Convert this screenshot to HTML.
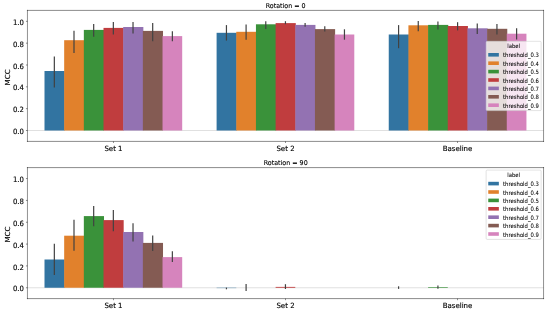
<!DOCTYPE html>
<html lang="en"><head><meta charset="utf-8"><title>MCC by threshold</title>
<style>
html,body{margin:0;padding:0;background:#fff;}
body{width:550px;height:311px;overflow:hidden;font-family:"DejaVu Sans","Liberation Sans",sans-serif;}
svg{display:block;}
svg text{stroke:#000;stroke-width:0.14px;stroke-linejoin:round;}
svg text.lg{stroke-width:0.05px;}
svg text.tt{stroke-width:0.1px;}
</style></head><body>
<svg width="550" height="311" viewBox="0 0 550 311" font-family='"DejaVu Sans","Liberation Sans",sans-serif' fill="#000">
<rect width="550" height="311" fill="#fff"/>
<g class="ax">
<line x1="27.45" x2="543.55" y1="130.5" y2="130.5" stroke="#d6d6d6" stroke-width="0.75"/>
<rect x="44.5" y="71" width="20.17" height="59.5" fill="#3274a1"/>
<rect x="64.17" y="40.2" width="20.17" height="90.3" fill="#e1812c"/>
<rect x="83.84" y="29.9" width="20.17" height="100.6" fill="#3a923a"/>
<rect x="103.51" y="27.9" width="20.17" height="102.6" fill="#c03d3e"/>
<rect x="123.18" y="27" width="20.17" height="103.5" fill="#9372b2"/>
<rect x="142.85" y="30.9" width="20.17" height="99.6" fill="#845b53"/>
<rect x="162.52" y="36.1" width="19.67" height="94.4" fill="#d684bd"/>
<rect x="216.6" y="32.8" width="20.17" height="97.7" fill="#3274a1"/>
<rect x="236.27" y="31.8" width="20.17" height="98.7" fill="#e1812c"/>
<rect x="255.94" y="24.3" width="20.17" height="106.2" fill="#3a923a"/>
<rect x="275.61" y="23.1" width="20.17" height="107.4" fill="#c03d3e"/>
<rect x="295.28" y="24.9" width="20.17" height="105.6" fill="#9372b2"/>
<rect x="314.95" y="29.1" width="20.17" height="101.4" fill="#845b53"/>
<rect x="334.62" y="34.5" width="19.67" height="96" fill="#d684bd"/>
<rect x="388.75" y="34.5" width="20.17" height="96" fill="#3274a1"/>
<rect x="408.42" y="25.3" width="20.17" height="105.2" fill="#e1812c"/>
<rect x="428.09" y="24.9" width="20.17" height="105.6" fill="#3a923a"/>
<rect x="447.76" y="26" width="20.17" height="104.5" fill="#c03d3e"/>
<rect x="467.43" y="28.3" width="20.17" height="102.2" fill="#9372b2"/>
<rect x="487.1" y="28.8" width="20.17" height="101.7" fill="#845b53"/>
<rect x="506.77" y="33.7" width="19.67" height="96.8" fill="#d684bd"/>
<line x1="54.34" x2="54.34" y1="56.5" y2="87.6" stroke="#424242" stroke-width="1.2"/>
<line x1="74" x2="74" y1="30.8" y2="53.1" stroke="#424242" stroke-width="1.2"/>
<line x1="93.68" x2="93.68" y1="24" y2="36.7" stroke="#424242" stroke-width="1.2"/>
<line x1="113.34" x2="113.34" y1="22.1" y2="34.4" stroke="#424242" stroke-width="1.2"/>
<line x1="133.02" x2="133.02" y1="22" y2="33.5" stroke="#424242" stroke-width="1.2"/>
<line x1="152.69" x2="152.69" y1="23.1" y2="41.2" stroke="#424242" stroke-width="1.2"/>
<line x1="172.36" x2="172.36" y1="31.2" y2="41.2" stroke="#424242" stroke-width="1.2"/>
<line x1="226.44" x2="226.44" y1="25.1" y2="40.6" stroke="#424242" stroke-width="1.2"/>
<line x1="246.1" x2="246.1" y1="24.5" y2="39.7" stroke="#424242" stroke-width="1.2"/>
<line x1="265.77" x2="265.77" y1="21.2" y2="29" stroke="#424242" stroke-width="1.2"/>
<line x1="285.44" x2="285.44" y1="21.2" y2="24.2" stroke="#424242" stroke-width="1.2"/>
<line x1="305.11" x2="305.11" y1="22.9" y2="26.7" stroke="#424242" stroke-width="1.2"/>
<line x1="324.78" x2="324.78" y1="26.2" y2="31.5" stroke="#424242" stroke-width="1.2"/>
<line x1="344.45" x2="344.45" y1="29.3" y2="39.7" stroke="#424242" stroke-width="1.2"/>
<line x1="398.58" x2="398.58" y1="25.1" y2="48.2" stroke="#424242" stroke-width="1.2"/>
<line x1="418.25" x2="418.25" y1="21" y2="31.2" stroke="#424242" stroke-width="1.2"/>
<line x1="437.93" x2="437.93" y1="21.6" y2="29.6" stroke="#424242" stroke-width="1.2"/>
<line x1="457.59" x2="457.59" y1="22.2" y2="30.4" stroke="#424242" stroke-width="1.2"/>
<line x1="477.26" x2="477.26" y1="23.5" y2="33.9" stroke="#424242" stroke-width="1.2"/>
<line x1="496.94" x2="496.94" y1="24.1" y2="34.4" stroke="#424242" stroke-width="1.2"/>
<line x1="516.61" x2="516.61" y1="28.2" y2="39.6" stroke="#424242" stroke-width="1.2"/>
<path d="M27.45 10.4V141.4M543.55 10.4V141.4" fill="none" stroke="#000" stroke-width="0.44" stroke-linecap="square"/>
<path d="M27.45 10.4H543.55M27.45 141.4H543.55" fill="none" stroke="#000" stroke-width="0.46" stroke-linecap="square"/>
<line x1="25.95" x2="27.45" y1="130.5" y2="130.5" stroke="#000" stroke-width="0.46"/>
<text transform="translate(23.85,134.15) scale(1,1.07)" font-size="6.9" text-anchor="end">0.0</text>
<line x1="25.95" x2="27.45" y1="108.67" y2="108.67" stroke="#000" stroke-width="0.46"/>
<text transform="translate(23.85,112.32) scale(1,1.07)" font-size="6.9" text-anchor="end">0.2</text>
<line x1="25.95" x2="27.45" y1="86.83" y2="86.83" stroke="#000" stroke-width="0.46"/>
<text transform="translate(23.85,90.48) scale(1,1.07)" font-size="6.9" text-anchor="end">0.4</text>
<line x1="25.95" x2="27.45" y1="65" y2="65" stroke="#000" stroke-width="0.46"/>
<text transform="translate(23.85,68.65) scale(1,1.07)" font-size="6.9" text-anchor="end">0.6</text>
<line x1="25.95" x2="27.45" y1="43.17" y2="43.17" stroke="#000" stroke-width="0.46"/>
<text transform="translate(23.85,46.82) scale(1,1.07)" font-size="6.9" text-anchor="end">0.8</text>
<line x1="25.95" x2="27.45" y1="21.33" y2="21.33" stroke="#000" stroke-width="0.46"/>
<text transform="translate(23.85,24.98) scale(1,1.07)" font-size="6.9" text-anchor="end">1.0</text>
<line x1="113.47" x2="113.47" y1="141.4" y2="143" stroke="#000" stroke-width="0.44"/>
<text transform="translate(113.47,150.55) scale(1,1.03)" font-size="7.0" text-anchor="middle">Set 1</text>
<line x1="285.5" x2="285.5" y1="141.4" y2="143" stroke="#000" stroke-width="0.44"/>
<text transform="translate(285.5,150.55) scale(1,1.03)" font-size="7.0" text-anchor="middle">Set 2</text>
<line x1="457.53" x2="457.53" y1="141.4" y2="143" stroke="#000" stroke-width="0.44"/>
<text transform="translate(457.53,150.55) scale(1,1.03)" font-size="7.0" text-anchor="middle">Baseline</text>
<text transform="translate(9.95,77.4) scale(1,1.03) rotate(-90)" font-size="6.9" text-anchor="middle">MCC</text>
<text transform="translate(285.7,8) scale(1,1.03)" font-size="6.36" text-anchor="middle" class="tt">Rotation = 0</text>
<rect x="486.15" y="41.3" width="55" height="69.3" rx="1.1" fill="#fff" fill-opacity="0.8" stroke="#ccc" stroke-opacity="0.8" stroke-width="0.7"/>
<text transform="translate(513.65,48.05) scale(1,1.12)" font-size="5.3" text-anchor="middle" class="lg">label</text>
<rect x="488.25" y="53" width="10.6" height="3.6" fill="#3274a1"/>
<text transform="translate(503.05,57.45) scale(1,1.12)" font-size="5.3" class="lg">threshold_0.3</text>
<rect x="488.25" y="61.4" width="10.6" height="3.6" fill="#e1812c"/>
<text transform="translate(503.05,65.85) scale(1,1.12)" font-size="5.3" class="lg">threshold_0.4</text>
<rect x="488.25" y="69.8" width="10.6" height="3.6" fill="#3a923a"/>
<text transform="translate(503.05,74.25) scale(1,1.12)" font-size="5.3" class="lg">threshold_0.5</text>
<rect x="488.25" y="78.2" width="10.6" height="3.6" fill="#c03d3e"/>
<text transform="translate(503.05,82.65) scale(1,1.12)" font-size="5.3" class="lg">threshold_0.6</text>
<rect x="488.25" y="86.6" width="10.6" height="3.6" fill="#9372b2"/>
<text transform="translate(503.05,91.05) scale(1,1.12)" font-size="5.3" class="lg">threshold_0.7</text>
<rect x="488.25" y="95" width="10.6" height="3.6" fill="#845b53"/>
<text transform="translate(503.05,99.45) scale(1,1.12)" font-size="5.3" class="lg">threshold_0.8</text>
<rect x="488.25" y="103.4" width="10.6" height="3.6" fill="#d684bd"/>
<text transform="translate(503.05,107.85) scale(1,1.12)" font-size="5.3" class="lg">threshold_0.9</text>
</g>
<g class="ax">
<line x1="27.45" x2="543.55" y1="287.75" y2="287.75" stroke="#d6d6d6" stroke-width="0.75"/>
<rect x="44.5" y="259.5" width="20.17" height="28.25" fill="#3274a1"/>
<rect x="64.17" y="235.7" width="20.17" height="52.05" fill="#e1812c"/>
<rect x="83.84" y="216.1" width="20.17" height="71.65" fill="#3a923a"/>
<rect x="103.51" y="220.1" width="20.17" height="67.65" fill="#c03d3e"/>
<rect x="123.18" y="232" width="20.17" height="55.75" fill="#9372b2"/>
<rect x="142.85" y="242.9" width="20.17" height="44.85" fill="#845b53"/>
<rect x="162.52" y="257.1" width="19.67" height="30.65" fill="#d684bd"/>
<rect x="216.6" y="287.75" width="19.67" height="0.35" fill="#3274a1"/>
<rect x="275.61" y="286.9" width="19.67" height="0.85" fill="#c03d3e"/>
<rect x="428.09" y="287.1" width="19.67" height="0.65" fill="#3a923a"/>
<line x1="54.34" x2="54.34" y1="243.7" y2="274.9" stroke="#424242" stroke-width="1.2"/>
<line x1="74" x2="74" y1="219.7" y2="250.8" stroke="#424242" stroke-width="1.2"/>
<line x1="93.68" x2="93.68" y1="206" y2="226.2" stroke="#424242" stroke-width="1.2"/>
<line x1="113.34" x2="113.34" y1="210.1" y2="231.2" stroke="#424242" stroke-width="1.2"/>
<line x1="133.02" x2="133.02" y1="223.3" y2="241.4" stroke="#424242" stroke-width="1.2"/>
<line x1="152.69" x2="152.69" y1="235.5" y2="251.1" stroke="#424242" stroke-width="1.2"/>
<line x1="172.36" x2="172.36" y1="251.3" y2="261.9" stroke="#424242" stroke-width="1.2"/>
<line x1="226.44" x2="226.44" y1="287.6" y2="289.3" stroke="#424242" stroke-width="1.2"/>
<line x1="246.1" x2="246.1" y1="283.9" y2="291.1" stroke="#424242" stroke-width="1.2"/>
<line x1="285.44" x2="285.44" y1="284.2" y2="289" stroke="#424242" stroke-width="1.2"/>
<line x1="398.58" x2="398.58" y1="286.3" y2="288.9" stroke="#424242" stroke-width="1.2"/>
<line x1="437.93" x2="437.93" y1="285.4" y2="288.8" stroke="#424242" stroke-width="1.2"/>
<path d="M27.45 167.6V298.6M543.55 167.6V298.6" fill="none" stroke="#000" stroke-width="0.44" stroke-linecap="square"/>
<path d="M27.45 167.6H543.55M27.45 298.6H543.55" fill="none" stroke="#000" stroke-width="0.46" stroke-linecap="square"/>
<line x1="25.95" x2="27.45" y1="287.75" y2="287.75" stroke="#000" stroke-width="0.46"/>
<text transform="translate(23.85,291.4) scale(1,1.07)" font-size="6.9" text-anchor="end">0.0</text>
<line x1="25.95" x2="27.45" y1="265.92" y2="265.92" stroke="#000" stroke-width="0.46"/>
<text transform="translate(23.85,269.57) scale(1,1.07)" font-size="6.9" text-anchor="end">0.2</text>
<line x1="25.95" x2="27.45" y1="244.08" y2="244.08" stroke="#000" stroke-width="0.46"/>
<text transform="translate(23.85,247.73) scale(1,1.07)" font-size="6.9" text-anchor="end">0.4</text>
<line x1="25.95" x2="27.45" y1="222.25" y2="222.25" stroke="#000" stroke-width="0.46"/>
<text transform="translate(23.85,225.9) scale(1,1.07)" font-size="6.9" text-anchor="end">0.6</text>
<line x1="25.95" x2="27.45" y1="200.42" y2="200.42" stroke="#000" stroke-width="0.46"/>
<text transform="translate(23.85,204.07) scale(1,1.07)" font-size="6.9" text-anchor="end">0.8</text>
<line x1="25.95" x2="27.45" y1="178.58" y2="178.58" stroke="#000" stroke-width="0.46"/>
<text transform="translate(23.85,182.23) scale(1,1.07)" font-size="6.9" text-anchor="end">1.0</text>
<line x1="113.47" x2="113.47" y1="298.6" y2="300.2" stroke="#000" stroke-width="0.44"/>
<text transform="translate(113.47,307.75) scale(1,1.03)" font-size="7.0" text-anchor="middle">Set 1</text>
<line x1="285.5" x2="285.5" y1="298.6" y2="300.2" stroke="#000" stroke-width="0.44"/>
<text transform="translate(285.5,307.75) scale(1,1.03)" font-size="7.0" text-anchor="middle">Set 2</text>
<line x1="457.53" x2="457.53" y1="298.6" y2="300.2" stroke="#000" stroke-width="0.44"/>
<text transform="translate(457.53,307.75) scale(1,1.03)" font-size="7.0" text-anchor="middle">Baseline</text>
<text transform="translate(9.95,234.6) scale(1,1.03) rotate(-90)" font-size="6.9" text-anchor="middle">MCC</text>
<text transform="translate(285.7,165.2) scale(1,1.03)" font-size="6.36" text-anchor="middle" class="tt">Rotation = 90</text>
<rect x="486.15" y="170.1" width="55" height="69.3" rx="1.1" fill="#fff" fill-opacity="0.8" stroke="#ccc" stroke-opacity="0.8" stroke-width="0.7"/>
<text transform="translate(513.65,176.85) scale(1,1.12)" font-size="5.3" text-anchor="middle" class="lg">label</text>
<rect x="488.25" y="181.8" width="10.6" height="3.6" fill="#3274a1"/>
<text transform="translate(503.05,186.25) scale(1,1.12)" font-size="5.3" class="lg">threshold_0.3</text>
<rect x="488.25" y="190.2" width="10.6" height="3.6" fill="#e1812c"/>
<text transform="translate(503.05,194.65) scale(1,1.12)" font-size="5.3" class="lg">threshold_0.4</text>
<rect x="488.25" y="198.6" width="10.6" height="3.6" fill="#3a923a"/>
<text transform="translate(503.05,203.05) scale(1,1.12)" font-size="5.3" class="lg">threshold_0.5</text>
<rect x="488.25" y="207" width="10.6" height="3.6" fill="#c03d3e"/>
<text transform="translate(503.05,211.45) scale(1,1.12)" font-size="5.3" class="lg">threshold_0.6</text>
<rect x="488.25" y="215.4" width="10.6" height="3.6" fill="#9372b2"/>
<text transform="translate(503.05,219.85) scale(1,1.12)" font-size="5.3" class="lg">threshold_0.7</text>
<rect x="488.25" y="223.8" width="10.6" height="3.6" fill="#845b53"/>
<text transform="translate(503.05,228.25) scale(1,1.12)" font-size="5.3" class="lg">threshold_0.8</text>
<rect x="488.25" y="232.2" width="10.6" height="3.6" fill="#d684bd"/>
<text transform="translate(503.05,236.65) scale(1,1.12)" font-size="5.3" class="lg">threshold_0.9</text>
</g>
</svg>
</body></html>
